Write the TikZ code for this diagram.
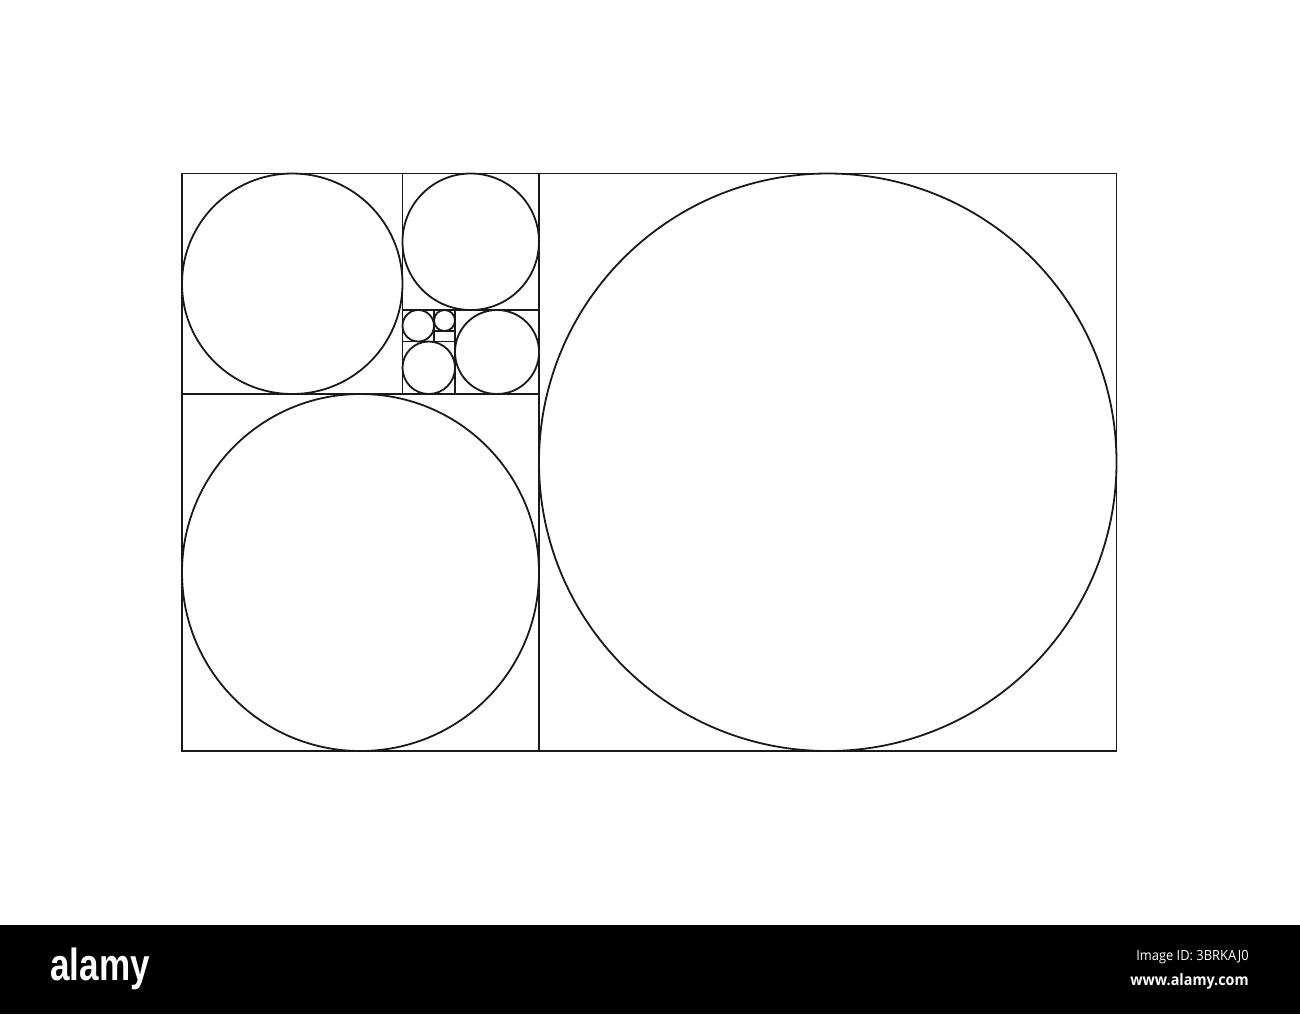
\documentclass[tikz,border=0pt]{standalone}
\usepackage{fontspec}
\setmainfont{Open Sans}
\newfontfamily\logofont{Liberation Sans}
\begin{document}
\begin{tikzpicture}[x=0.5pt,y=-0.5pt,
  gline/.style={line width=0.9pt, draw=black!90},
  wtext/.style={text=white, inner sep=0pt}]
\useasboundingbox (0,0) rectangle (1300,1014);
\fill[white] (0,0) rectangle (1300,1014);
\begin{scope}[shift={(182,173.5)}, x=5.25pt, y=-5.25pt]
  \foreach \sx/\sy/\s in {34/0/55, 0/21/34, 0/0/21, 21/0/13, 26/13/8, 21/16/5, 21/13/3, 24/13/2}{
    \draw[gline] (\sx,\sy) rectangle ++(\s,\s);
    \draw[gline] ({\sx+\s/2},{\sy+\s/2}) circle[radius=\s/2];
  }
\end{scope}
\fill[black] (0,925) rectangle (1300,1014);
\node[wtext, anchor=base west, font=\logofont\bfseries\fontsize{22.5}{23}\selectfont, xscale=0.78] (logo) at (50,980) {alamy};
\node[wtext, anchor=base east, font=\fontsize{7}{7}\selectfont, xscale=0.92] (imgid) at (1249,960) {Image ID: 3BRKAJ0};
\node[wtext, anchor=base east, font=\bfseries\fontsize{7.8}{8}\selectfont, xscale=0.92] (url) at (1249,985) {www.alamy.com};
\end{tikzpicture}
\end{document}
